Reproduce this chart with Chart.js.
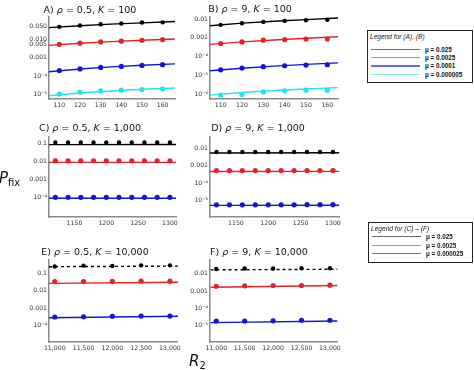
<!DOCTYPE html>
<html>
<head>
<meta charset="utf-8">
<script src="https://cdn.jsdelivr.net/npm/chart.js@4.4.1/dist/chart.umd.min.js"></script>
<style>
  body { margin: 0; background: #fff; }
  #wrap { position: relative; width: 474px; height: 370px; overflow: hidden; font-family: "DejaVu Sans", sans-serif; color: #111; }
  canvas { position: absolute; }
  .ttl { position: absolute; font-size: 9.5px; white-space: nowrap; transform: translate(-50%, -50%); }
  .ttl i { font-style: italic; }
  .lg { position: absolute; border: 1px solid #222; background: #fff; font-family: "Liberation Sans", sans-serif; font-size: 6.3px; }
  .lg .hd { font-style: italic; position: absolute; left: 2px; font-size: 6.6px; color: #222; }
  .lg .row { position: absolute; left: 3px; height: 8px; }
  .lg .ln { position: absolute; left: 0; top: 3px; width: 49px; height: 1.3px; }
  .lg .tx { position: absolute; left: 54px; top: 0; font-weight: bold; white-space: nowrap; }
  .axl { position: absolute; font-size: 15px; white-space: nowrap; }
  .axl sub { font-size: 10px; font-style: normal; vertical-align: -3px; }
</style>
</head>
<body>
<div id="wrap">
  <canvas id="cA"></canvas><canvas id="cB"></canvas>
  <canvas id="cC"></canvas><canvas id="cD"></canvas>
  <canvas id="cE"></canvas><canvas id="cF"></canvas>

  <div class="ttl" style="left:90px;top:9px">A) <i>ρ</i> = 0.5, <i>K</i> = 100</div>
  <div class="ttl" style="left:250px;top:8px">B) <i>ρ</i> = 9, <i>K</i> = 100</div>
  <div class="ttl" style="left:90px;top:127px">C) <i>ρ</i> = 0.5, <i>K</i> = 1,000</div>
  <div class="ttl" style="left:258px;top:127px">D) <i>ρ</i> = 9, <i>K</i> = 1,000</div>
  <div class="ttl" style="left:95px;top:251px">E) <i>ρ</i> = 0.5, <i>K</i> = 10,000</div>
  <div class="ttl" style="left:259px;top:251px">F) <i>ρ</i> = 9, <i>K</i> = 10,000</div>

  <div class="axl" style="left:-1px;top:169px"><i>P</i><sub>fix</sub></div>
  <div class="axl" style="left:189px;top:352px"><i>R</i><sub>2</sub></div>

  <div class="lg" id="lg1" style="left:367px;top:30px;width:104px;height:51px"></div>
  <div class="lg" id="lg2" style="left:368px;top:222px;width:103px;height:39px"></div>
</div>

<script>
// ---- data ----
// A) rho = 0.5, K = 100
const xSimAB = [110, 120, 130, 140, 150, 160];
const xThA = [105, 120, 135, 150, 166];
const simA1 = [0.045, 0.053, 0.062, 0.068, 0.077, 0.079];
const simA2 = [0.0051, 0.0059, 0.0069, 0.0076, 0.0085, 0.0093];
const simA3 = [1.95e-4, 2.4e-4, 2.9e-4, 3.3e-4, 3.7e-4, 4.1e-4];
const simA4 = [1.05e-5, 1.34e-5, 1.57e-5, 1.71e-5, 1.86e-5, 2.0e-5];
const thA1 = [0.041, 0.052, 0.063, 0.074, 0.087];
const thA2 = [0.0045, 0.0059, 0.0072, 0.0085, 0.0099];
const thA3 = [1.7e-4, 2.4e-4, 3.1e-4, 3.8e-4, 4.5e-4];
const thA4 = [8.6e-6, 1.2e-5, 1.55e-5, 1.9e-5, 2.25e-5];

// B) rho = 9, K = 100
const xThB = [105, 120, 135, 150, 165];
const simB1 = [0.0049, 0.0059, 0.0070, 0.0079, 0.0085, 0.0092];
const simB2 = [5.0e-4, 6.1e-4, 7.5e-4, 8.1e-4, 8.7e-4, 8.7e-4];
const simB3 = [2.0e-5, 2.5e-5, 2.95e-5, 3.3e-5, 3.6e-5, 3.75e-5];
const simB4 = [9.2e-7, 1.0e-6, 1.36e-6, 1.54e-6, 1.67e-6, 1.67e-6];
const thB1 = [0.0044, 0.0060, 0.0076, 0.0093, 0.0112];
const thB2 = [4.5e-4, 6.1e-4, 7.7e-4, 9.5e-4, 1.15e-3];
const thB3 = [1.8e-5, 2.45e-5, 3.15e-5, 3.9e-5, 4.7e-5];
const thB4 = [9.2e-7, 1.25e-6, 1.6e-6, 1.95e-6, 2.3e-6];

// C) rho = 0.5, K = 1,000   D) rho = 9, K = 1,000
const xSimCD = [1120, 1140, 1160, 1180, 1200, 1220, 1240, 1260, 1280, 1300];
const xThCD = [1110, 1310];
const simC1 = [0.11, 0.11, 0.11, 0.11, 0.11, 0.11, 0.11, 0.11, 0.11, 0.11];
const simC2 = [0.011, 0.011, 0.011, 0.011, 0.011, 0.011, 0.011, 0.011, 0.011, 0.011];
const simC3 = [1.07e-4, 1.07e-4, 1.07e-4, 1.07e-4, 1.07e-4, 1.07e-4, 1.07e-4, 1.07e-4, 1.07e-4, 1.08e-4];
const thC1 = [0.085, 0.086];
const thC2 = [0.0089, 0.009];
const thC3 = [9.5e-5, 9.6e-5];
const simD1 = [0.006, 0.006, 0.006, 0.006, 0.006, 0.006, 0.006, 0.006, 0.006, 0.006];
const simD2 = [5.2e-4, 5.2e-4, 5.2e-4, 5.2e-4, 5.2e-4, 5.2e-4, 5.2e-4, 5.2e-4, 5.2e-4, 5.2e-4];
const simD3 = [5.7e-6, 5.7e-6, 5.7e-6, 5.7e-6, 5.7e-6, 5.7e-6, 5.7e-6, 5.8e-6, 5.8e-6, 5.8e-6];
const thD1 = [0.0053, 0.0054];
const thD2 = [4.6e-4, 4.7e-4];
const thD3 = [5.3e-6, 5.4e-6];

// E) rho = 0.5, K = 10,000   F) rho = 9, K = 10,000
const xSimEF = [11000, 11500, 12000, 12500, 13000];
const xThEF = [10900, 13140];
const simE1 = [0.24, 0.27, 0.26, 0.28, 0.28];
const simE2 = [0.033, 0.033, 0.034, 0.035, 0.035];
const simE3 = [3.1e-4, 3.2e-4, 3.4e-4, 3.5e-4, 3.5e-4];
const thE1 = [0.235, 0.255];
const thE2 = [0.026, 0.030];
const thE3 = [2.8e-4, 3.4e-4];
const simF1 = [0.019, 0.020, 0.020, 0.021, 0.021];
const simF2 = [0.0019, 0.0020, 0.0021, 0.0021, 0.0022];
const simF3 = [1.85e-5, 1.85e-5, 1.9e-5, 2.05e-5, 2.05e-5];
const thF1 = [0.0168, 0.0183];
const thF2 = [0.00166, 0.0021];
const thF3 = [1.5e-5, 1.85e-5];

// tick values and labels
const xTicksAB = [110, 120, 130, 140, 150, 160];
const xTicksCD = [1150, 1200, 1250, 1300];
const xTicksEF = [11000, 11500, 12000, 12500, 13000];
const yTicksA = [0.05, 0.01, 0.005, 0.001, 1e-4, 1e-5];
const yLabelsA = ['0.050', '0.010', '0.005', '0.001', '10⁻⁴', '10⁻⁵'];
const yTicksB = [0.01, 0.001, 1e-4, 1e-5, 1e-6];
const yLabelsB = ['0.01', '0.001', '10⁻⁴', '10⁻⁵', '10⁻⁶'];
const yTicksCE = [0.1, 0.01, 0.001, 1e-4];
const yLabelsCE = ['0.1', '0.01', '0.001', '10⁻⁴'];
const yTicksDF = [0.01, 0.001, 1e-4, 1e-5];
const yLabelsDF = ['0.01', '0.001', '10⁻⁴', '10⁻⁵'];

const muAB = ['μ = 0.025', 'μ = 0.0025', 'μ = 0.0001', 'μ = 0.000005'];
const muCF = ['μ = 0.025', 'μ = 0.0025', 'μ = 0.000025'];

// ---- styling ----
const colors = ['#000000', '#e8202a', '#1414d8', '#22e6e6'];
const legendColors = ['#6a6a6a', '#f07078', '#6a6af0', '#80f0f0'];
const YW = 40, XH = 13, PAD = 4;

function pts(xs, ys) { return xs.map((x, i) => ({ x: x, y: ys[i] })); }

function makePanel(id, box, xr, xTicks, xComma, yr, yTicks, yLabels, curves) {
  const cv = document.getElementById(id);
  const left = box.axisX - YW;
  cv.style.left = left + 'px';
  cv.style.top = (box.top - PAD) + 'px';
  cv.width = box.right + PAD - left;
  cv.height = box.bottom - box.top + PAD + XH;

  const datasets = [];
  curves.forEach((c, i) => {
    datasets.push({
      data: pts(c.thX, c.th), borderColor: colors[i], borderWidth: 1.4,
      borderDash: c.dash ? [3, 3] : [], pointRadius: 0, fill: false
    });
    datasets.push({
      data: pts(c.simX, c.sim), showLine: false, pointRadius: i === 0 ? 2.2 : 2.6,
      pointBackgroundColor: colors[i], pointBorderWidth: 0, borderColor: colors[i]
    });
  });

  new Chart(cv, {
    type: 'line',
    data: { datasets: datasets },
    options: {
      responsive: false, animation: false, devicePixelRatio: 1,
      layout: { padding: { top: PAD, right: PAD, left: 0, bottom: 0 }, autoPadding: false },
      plugins: { legend: { display: false }, tooltip: { enabled: false } },
      scales: {
        x: {
          type: 'linear', min: xr[0], max: xr[1],
          grid: { display: false, drawTicks: false },
          border: { display: true, color: '#8a8a8a', width: 1.5 },
          afterBuildTicks: s => { s.ticks = xTicks.map(v => ({ value: v })); },
          afterFit: s => { s.height = XH; },
          ticks: { autoSkip: false, maxRotation: 0, padding: 3, color: '#333',
                   font: { size: 6.2, family: 'DejaVu Sans' },
                   callback: v => xComma ? v.toLocaleString('en-US') : String(v) }
        },
        y: {
          type: 'logarithmic', min: yr[0], max: yr[1],
          grid: { display: false, drawTicks: false },
          border: { display: true, color: '#8a8a8a', width: 1.5 },
          afterBuildTicks: s => { s.ticks = yTicks.map(v => ({ value: v })); },
          afterFit: s => { s.width = YW; },
          ticks: { autoSkip: false, padding: 2, color: '#333',
                   font: { size: 6.2, family: 'DejaVu Sans' },
                   callback: v => yLabels[yTicks.indexOf(v)] }
        }
      }
    }
  });
}

makePanel('cA', { axisX: 49, right: 175, top: 15, bottom: 99 }, [105, 166], xTicksAB, false,
  [5.7e-6, 0.159], yTicksA, yLabelsA, [
    { thX: xThA, th: thA1, simX: xSimAB, sim: simA1 },
    { thX: xThA, th: thA2, simX: xSimAB, sim: simA2 },
    { thX: xThA, th: thA3, simX: xSimAB, sim: simA3 },
    { thX: xThA, th: thA4, simX: xSimAB, sim: simA4 }]);

makePanel('cB', { axisX: 210, right: 338, top: 15, bottom: 99 }, [105, 165], xTicksAB, false,
  [5.7e-7, 0.0132], yTicksB, yLabelsB, [
    { thX: xThB, th: thB1, simX: xSimAB, sim: simB1 },
    { thX: xThB, th: thB2, simX: xSimAB, sim: simB2 },
    { thX: xThB, th: thB3, simX: xSimAB, sim: simB3 },
    { thX: xThB, th: thB4, simX: xSimAB, sim: simB4 }]);

makePanel('cC', { axisX: 49, right: 177, top: 135, bottom: 217 }, [1110, 1310], xTicksCD, false,
  [8.9e-6, 0.23], yTicksCE, yLabelsCE, [
    { thX: xThCD, th: thC1, simX: xSimCD, sim: simC1 },
    { thX: xThCD, th: thC2, simX: xSimCD, sim: simC2 },
    { thX: xThCD, th: thC3, simX: xSimCD, sim: simC3 }]);

makePanel('cD', { axisX: 210, right: 340, top: 135, bottom: 217 }, [1110, 1310], xTicksCD, false,
  [1.15e-6, 0.045], yTicksDF, yLabelsDF, [
    { thX: xThCD, th: thD1, simX: xSimCD, sim: simD1 },
    { thX: xThCD, th: thD2, simX: xSimCD, sim: simD2 },
    { thX: xThCD, th: thD3, simX: xSimCD, sim: simD3 }]);

makePanel('cE', { axisX: 49, right: 180, top: 258, bottom: 342 }, [10900, 13140], xTicksEF, true,
  [1.15e-5, 0.59], yTicksCE, yLabelsCE, [
    { thX: xThEF, th: thE1, simX: xSimEF, sim: simE1, dash: true },
    { thX: xThEF, th: thE2, simX: xSimEF, sim: simE2 },
    { thX: xThEF, th: thE3, simX: xSimEF, sim: simE3 }]);

makePanel('cF', { axisX: 210, right: 340, top: 258, bottom: 342 }, [10890, 13130], xTicksEF, true,
  [1.13e-6, 0.065], yTicksDF, yLabelsDF, [
    { thX: xThEF, th: thF1, simX: xSimEF, sim: simF1, dash: true },
    { thX: xThEF, th: thF2, simX: xSimEF, sim: simF2 },
    { thX: xThEF, th: thF3, simX: xSimEF, sim: simF3 }]);

// ---- legends ----
function makeLegend(id, title, labels, top0, step) {
  const box = document.getElementById(id);
  let html = '<div class="hd" style="top:2px">' + title + '</div>';
  labels.forEach((t, i) => {
    html += '<div class="row" style="top:' + (top0 + i * step) + 'px">' +
      '<div class="ln" style="background:' + legendColors[i] + '"></div>' +
      '<div class="tx">' + t + '</div></div>';
  });
  box.innerHTML = html;
}
makeLegend('lg1', 'Legend for (A), (B)', muAB, 15, 8.2);
makeLegend('lg2', 'Legend for (C) – (F)', muCF, 10, 8.5);
</script>
</body>
</html>
